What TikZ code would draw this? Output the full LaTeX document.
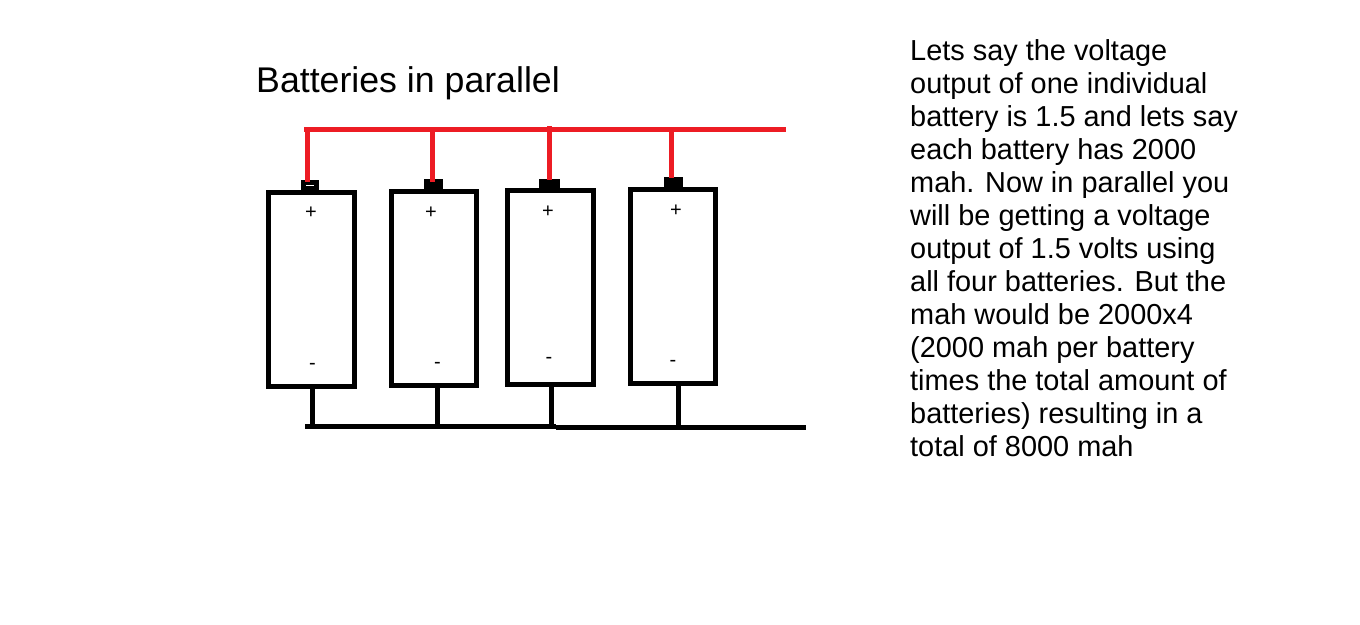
\documentclass[tikz,border=0pt]{standalone}
\usepackage{fontspec}
\setmainfont{Liberation Sans}
\definecolor{wirered}{RGB}{237,28,36}
\tikzset{
 x=1pt,y=-1pt,
 batt/.style={draw=black,line width=5pt,fill=white,inner sep=0pt,outer sep=0pt,minimum width=#1,minimum height=193.8pt,anchor=north west},
 redw/.style={draw=wirered,line width=4.6pt},
 blkw/.style={draw=black,line width=4.8pt},
 capb/.style={fill=black,inner sep=0pt,outer sep=0pt,minimum height=10pt,anchor=north west},
 sign/.style={font=\fontsize{20}{20}\selectfont,inner sep=0pt},
}
\begin{document}
\begin{tikzpicture}
\useasboundingbox (0,0) rectangle (1360,624);
\node[font=\fontsize{35.7}{36}\selectfont,anchor=base west,inner sep=0pt] (title) at (256,92) {Batteries in parallel};
% batteries
\node[batt=86pt] (b1) at (268.5,192.5) {};
\node[batt=85pt] (b2) at (391.5,191.5) {};
\node[batt=86pt] (b3) at (507.5,190.5) {};
\node[batt=85pt] (b4) at (630.5,189.5) {};
% caps
\node[capb,minimum width=18pt] (c1) at (301,180) {};
\node[capb,minimum width=19pt] (c2) at (424,179) {};
\node[capb,minimum width=21pt] (c3) at (539,179) {};
\node[capb,minimum width=19pt] (c4) at (664,177) {};
\node[fill=white,minimum width=8pt,minimum height=1.2pt,inner sep=0pt] (c1w) at (310,185.5) {};
% red wires
\coordinate (r0) at (304,129.5);\coordinate (r5) at (786,129.5);
\coordinate (r1) at (307.5,129.5);\coordinate (r2) at (432.5,129.5);
\coordinate (r3) at (549.5,126);\coordinate (r4) at (671.5,129.5);
\draw[redw,line width=5pt] (r0) -- (r5);
\draw[redw,shorten >=-1.5pt] (r1) -- (r1 |- c1.north);
\draw[redw,shorten >=-3pt] (r2) -- (r2 |- c2.north);
\draw[redw,shorten >=-1pt] (r3) -- (r3 |- c3.north);
\draw[redw,shorten >=-1pt] (r4) -- (r4 |- c4.north);
% black wires
\coordinate (k0) at (305,426.5);\coordinate (km) at (556,426.5);
\coordinate (kn) at (556,427.5);\coordinate (k5) at (806,427.5);
\coordinate (k1) at (312.5,426.5);\coordinate (k2) at (437.5,426.5);
\coordinate (k3) at (551.5,426.5);\coordinate (k4) at (678.5,430);
\draw[blkw,line width=5pt] (k0) -- (km);
\draw[blkw,line width=5pt] (kn) -- (k5);
\draw[blkw] (k1 |- b1.south) -- (k1);
\draw[blkw] (k2 |- b2.south) -- (k2);
\draw[blkw] (k3 |- b3.south) -- (k3);
\draw[blkw] (k4 |- b4.south) -- (k4);
% signs
\node[sign] (p1) at (311,212.5) {+};
\node[sign] (p2) at (431,212.5) {+};
\node[sign] (p3) at (548,211.5) {+};
\node[sign] (p4) at (676,210.5) {+};
\node[sign] (m1) at (312.5,366.5) {-};
\node[sign] (m2) at (437.5,365.5) {-};
\node[sign] (m3) at (549,360.5) {-};
\node[sign] (m4) at (673,363) {-};
\node[font=\fontsize{28.9}{33.05}\selectfont,anchor=north west,inner sep=0pt,align=left] (txt) at (910,39) {\frenchspacing Lets say the voltage\\output of one individual\\battery is 1.5 and lets say\\each battery has 2000\\mah. Now in parallel you\\will be getting a voltage\\output of 1.5 volts using\\all four batteries. But the\\mah would be 2000x4\\(2000 mah per battery\\times the total amount of\\batteries) resulting in a\\total of 8000 mah};
\end{tikzpicture}
\end{document}
